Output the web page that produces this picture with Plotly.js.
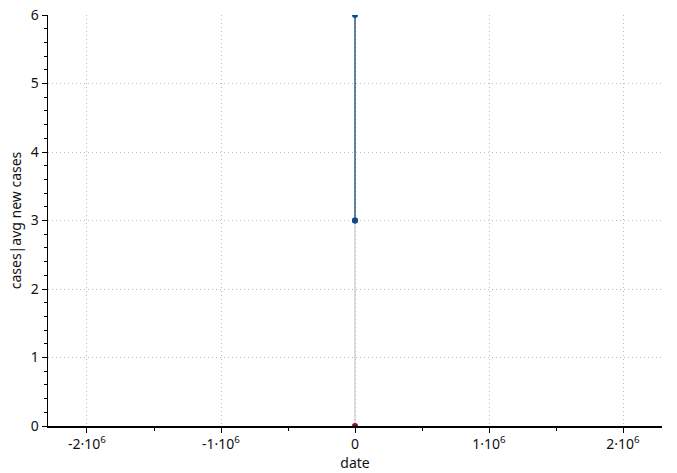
<!DOCTYPE html>
<html>
<head>
<meta charset="utf-8">
<script src="https://cdn.plot.ly/plotly-3.0.1.min.js"></script>
<style>html,body{margin:0;padding:0;background:#fff;}#chart{width:677px;height:473px;}</style>
</head>
<body>
<div id="chart"></div>
<script>
// Data
const avgDates = [0, 0];
const avgValues = [0, 3];
const caseDates = [0, 0];
const caseValues = [3, 6];
const xTickVals = [-2e6, -1e6, 0, 1e6, 2e6];
const xTickText = ['-2·10<sup>6</sup>', '-1·10<sup>6</sup>', '0', '1·10<sup>6</sup>', '2·10<sup>6</sup>'];
const yTickVals = [0, 1, 2, 3, 4, 5, 6];

const traces = [
  {
    x: avgDates, y: avgValues, type: 'scatter', mode: 'lines+markers',
    name: 'avg new cases',
    line: {color: '#c8c8c8', width: 1.2},
    marker: {color: '#8b0a32', size: 6, symbol: 'circle'}
  },
  {
    x: caseDates, y: caseValues, type: 'scatter', mode: 'lines+markers',
    name: 'cases',
    line: {color: '#00346b', width: 1.2},
    marker: {color: '#00508f', size: 6, symbol: 'circle'}
  }
];

const layout = {
  width: 677, height: 473,
  margin: {l: 48, r: 15, t: 15, b: 47},
  paper_bgcolor: '#fff', plot_bgcolor: '#fff',
  showlegend: false,
  font: {family: 'Noto Sans, Open Sans, sans-serif', size: 14, color: '#111'},
  xaxis: {
    range: [-2.291e6, 2.291e6],
    tickvals: xTickVals, ticktext: xTickText,
    ticks: 'outside', ticklen: 5, tickwidth: 1, tickcolor: '#000',
    showline: true, linecolor: '#000', linewidth: 1.5,
    showgrid: true, gridcolor: '#bbbbbb', griddash: '1px,3px', gridwidth: 1,
    zeroline: false,
    minor: {dtick: 5e5, tick0: 0, ticks: 'outside', ticklen: 3, tickcolor: '#000', showgrid: false},
    title: {text: 'date', font: {size: 14}, standoff: 0},
    tickfont: {size: 14}
  },
  yaxis: {
    range: [0, 6],
    tickvals: yTickVals,
    ticks: 'outside', ticklen: 5, tickwidth: 1, tickcolor: '#000',
    showline: true, linecolor: '#000', linewidth: 1.5,
    showgrid: true, gridcolor: '#bbbbbb', griddash: '1px,3px', gridwidth: 1,
    zeroline: false,
    minor: {dtick: 0.2, tick0: 0, ticks: 'outside', ticklen: 3, tickcolor: '#000', showgrid: false},
    title: {text: 'cases|avg new cases', font: {size: 14}, standoff: 6},
    tickfont: {size: 14}
  }
};

Plotly.newPlot('chart', traces, layout, {staticPlot: true, displayModeBar: false});
</script>
</body>
</html>
